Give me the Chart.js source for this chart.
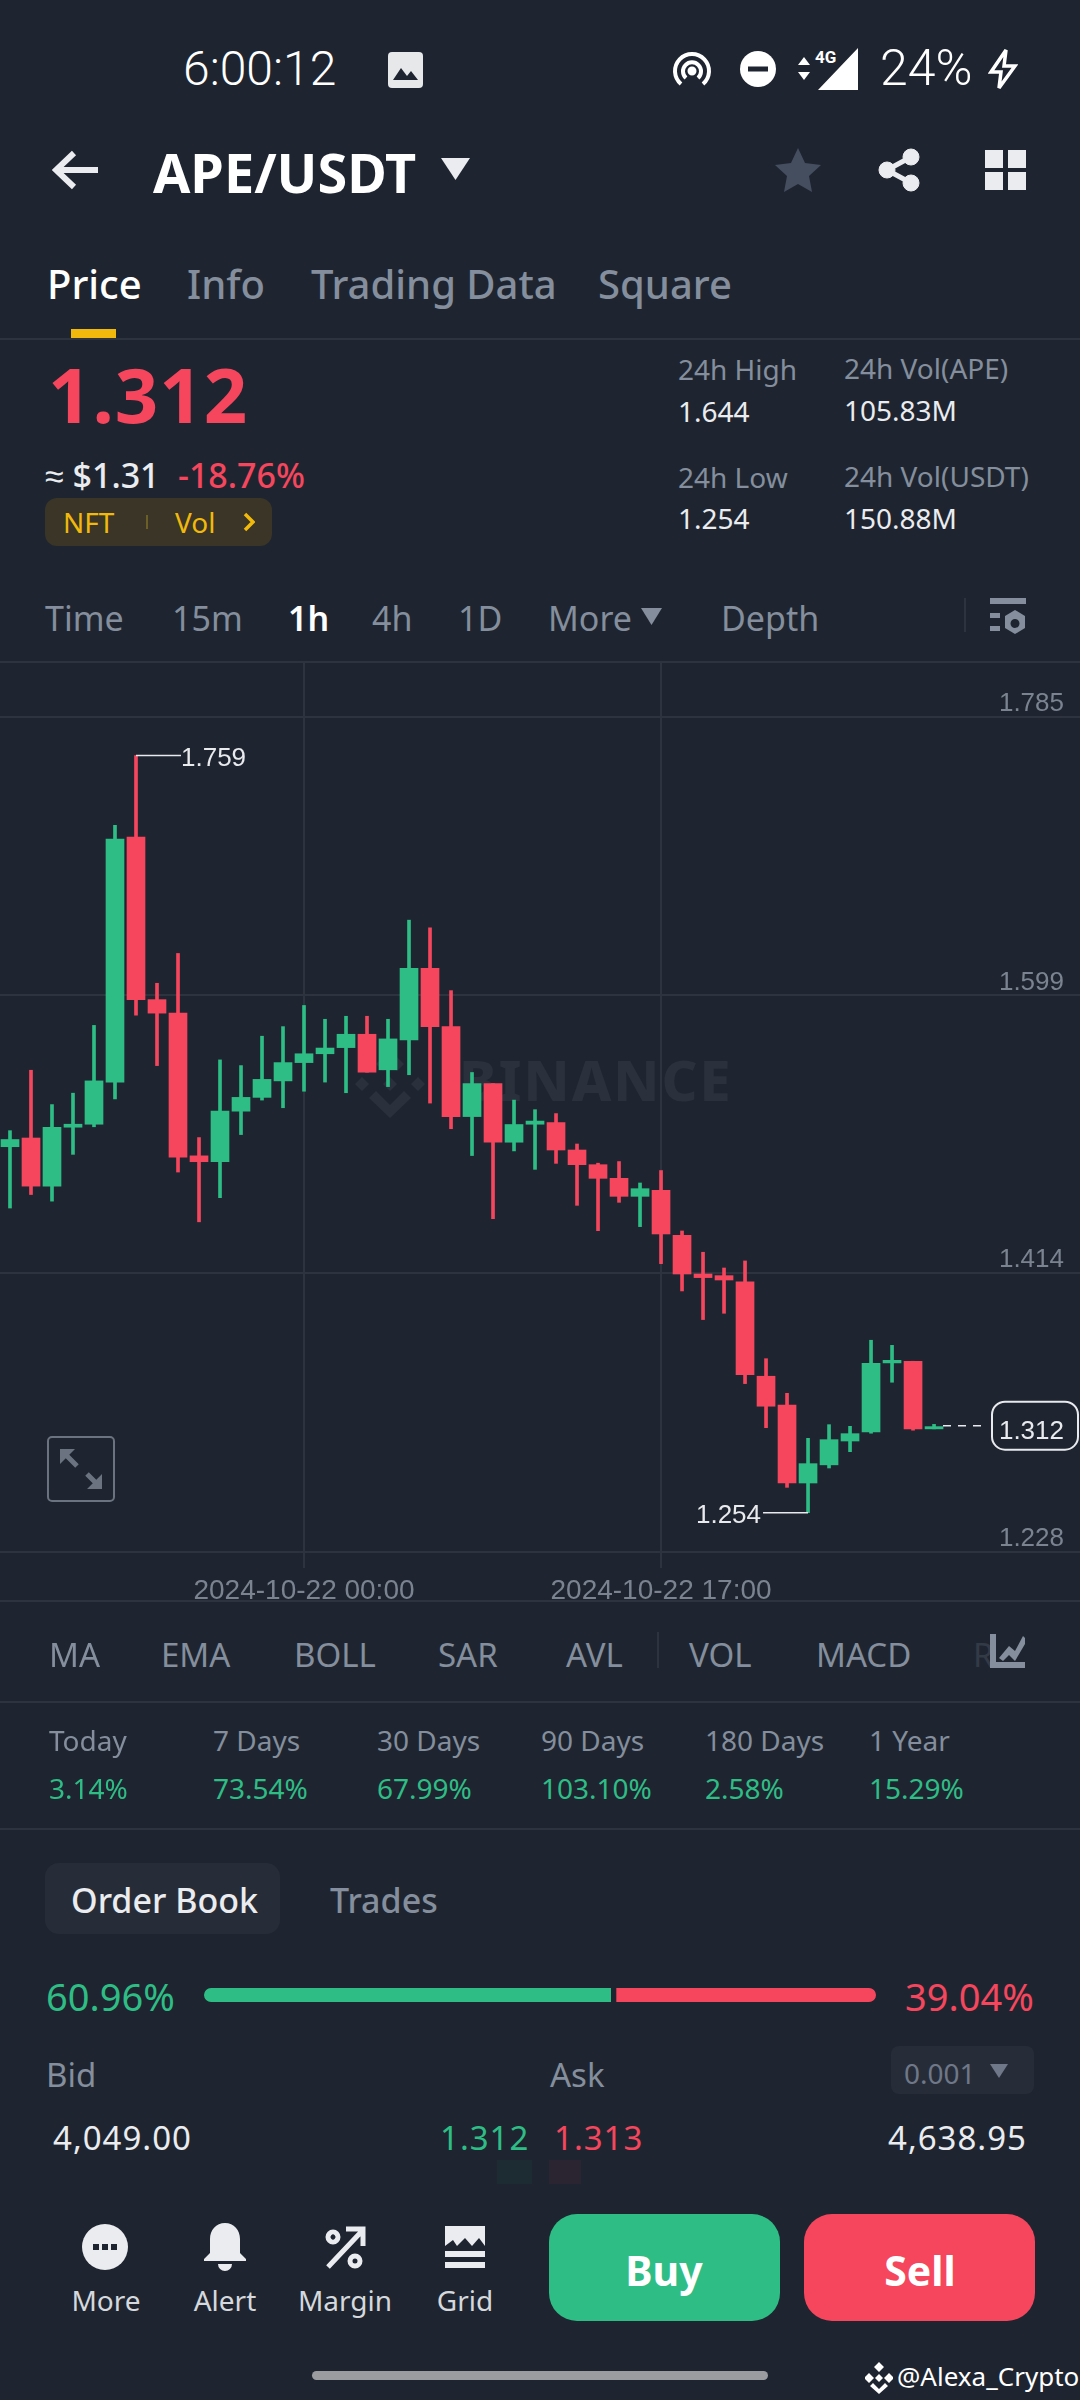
<!DOCTYPE html>
<html>
<head>
<meta charset="utf-8">
<title>APE/USDT</title>
<script src="https://cdn.jsdelivr.net/npm/chart.js@4"></script>
<style>
  html, body { margin: 0; padding: 0; background: #1e2530; }
  #page { position: relative; width: 1080px; height: 2400px; overflow: hidden; background: #1e2530; font-family: "Noto Sans", sans-serif; color: #848e9c; }
  .t { position: absolute; transform: translateY(-50%); line-height: 1; white-space: nowrap; }
  .line { position: absolute; left: 0; width: 1080px; height: 2px; background: #2d3440; }
  .box { position: absolute; }
  svg { position: absolute; }
  canvas { position: absolute; display: block; }
  .w { color: #eaecef; }
  .g { color: #2ebd85; }
  .r { color: #f6465d; }
  .y { color: #f0b90b; }
  .s28 { font-size: 28px; }
  .s34 { font-size: 33px; }
  .nav { font-size: 28px; color: #d5d8dc; transform: translate(-50%, -50%); }
</style>
</head>
<body>
<div id="page">
  <!-- status bar -->
  <span class="t" style="left:183px;top:68px;font:300 48px Roboto;color:#fff">6:00:12</span>
  <svg style="left:388px;top:52px" width="35" height="36" viewBox="0 0 35 36"><rect width="35" height="36" rx="4" fill="#e6e8ea"/><path d="M5 28l8-12 6 8 4-5 7 9z" fill="#1e2530"/></svg>
  <svg style="left:672px;top:50px" width="40" height="40" viewBox="0 0 40 40" fill="none" stroke="#fff" stroke-width="4"><path d="M9 34a17 17 0 1 1 22 0"/><path d="M14 28a9 9 0 1 1 12 0"/><circle cx="20" cy="21" r="2.5" fill="#fff"/></svg>
  <svg style="left:740px;top:51px" width="36" height="36" viewBox="0 0 36 36"><circle cx="18" cy="18" r="18" fill="#fff"/><rect x="8" y="15.5" width="20" height="5" fill="#1e2530"/></svg>
  <svg style="left:796px;top:46px" width="62" height="44" viewBox="0 0 62 44" fill="#fff"><path d="M2 19l6-8 6 8zM2 26l6 8 6-8z"/><path d="M22 44L62 2v42zM56 14v26h-4V18z"/></svg>
  <span class="t" style="left:815px;top:57px;font:700 17px Roboto;color:#fff;background:#1e2530">4G</span>
  <span class="t" style="left:880px;top:68px;font:300 50px Roboto;color:#fff">24%</span>
  <svg style="left:988px;top:48px" width="30" height="42" viewBox="0 0 30 42" fill="none" stroke="#fff" stroke-width="3.5"><path d="M18 2L3 24h10l-2 16 16-22H16z"/></svg>

  <!-- header -->
  <svg style="left:52px;top:150px" width="46" height="40" viewBox="0 0 46 40" fill="none" stroke="#eaecef" stroke-width="6"><path d="M46 20H4M22 3L4 20l18 17"/></svg>
  <span class="t" style="left:153px;top:172px;font-size:54px;font-weight:700;color:#fff">APE/USDT</span>
  <svg style="left:441px;top:158px" width="29" height="22" viewBox="0 0 29 22"><path d="M0 0h29L14.500 22z" fill="#eaecef"/></svg>
  <svg style="left:775px;top:147px" width="46" height="46" viewBox="0 0 46 46"><path d="M23 1l7 15 16 2-12 11 3 16-14-8-14 8 3-16L0 18l16-2z" fill="#454e5f"/></svg>
  <svg style="left:878px;top:148px" width="42" height="44" viewBox="0 0 42 44" fill="#eaecef" stroke="#eaecef"><circle cx="33" cy="9" r="8"/><circle cx="33" cy="35" r="8"/><circle cx="9" cy="22" r="8"/><path d="M9 22L33 9M9 22l24 13" stroke-width="5"/></svg>
  <svg style="left:985px;top:150px" width="41" height="40" viewBox="0 0 41 40" fill="#eaecef"><rect width="18" height="18"/><rect x="23" width="18" height="18"/><rect y="22" width="18" height="18"/><rect x="23" y="22" width="18" height="18"/></svg>

  <!-- tabs -->
  <span class="t" style="left:47px;top:284px;font-size:40px;font-weight:500;color:#fff">Price</span>
  <span class="t" style="left:187px;top:284px;font-size:40px;font-weight:500">Info</span>
  <span class="t" style="left:311px;top:284px;font-size:40px;font-weight:500">Trading Data</span>
  <span class="t" style="left:598px;top:284px;font-size:40px;font-weight:500">Square</span>
  <div class="box" style="left:71px;top:329px;width:45px;height:9px;background:#f0b90b"></div>
  <div class="line" style="top:338px"></div>

  <!-- price block -->
  <span class="t r" style="left:48px;top:394px;font-size:76px;font-weight:700;letter-spacing:1px">1.312</span>
  <span class="t w" style="left:45px;top:475px;font-size:34px;font-weight:500">≈ $1.31</span>
  <span class="t r" style="left:178px;top:475px;font-size:34px;font-weight:500">-18.76%</span>
  <div class="box" style="left:45px;top:498px;width:227px;height:48px;border-radius:12px;background:#3a3526"></div>
  <span class="t y s28" style="left:63px;top:522px">NFT</span>
  <div class="box" style="left:146px;top:515px;width:2px;height:14px;background:#6b5f28"></div>
  <span class="t y s28" style="left:175px;top:522px">Vol</span>
  <svg style="left:243px;top:512px" width="12" height="20" viewBox="0 0 12 20" fill="none" stroke="#f0b90b" stroke-width="3.500"><path d="M2 2l8 8-8 8"/></svg>

  <span class="t s28" style="left:678px;top:369px">24h High</span>
  <span class="t w s28" style="left:678px;top:411px">1.644</span>
  <span class="t s28" style="left:678px;top:477px">24h Low</span>
  <span class="t w s28" style="left:678px;top:518px">1.254</span>
  <span class="t s28" style="left:844px;top:368px">24h Vol(APE)</span>
  <span class="t w s28" style="left:844px;top:410px">105.83M</span>
  <span class="t s28" style="left:844px;top:476px">24h Vol(USDT)</span>
  <span class="t w s28" style="left:844px;top:518px">150.88M</span>

  <!-- interval row -->
  <span class="t" style="left:45px;top:618px;font-size:34px">Time</span>
  <span class="t" style="left:172px;top:618px;font-size:34px">15m</span>
  <span class="t" style="left:288px;top:618px;font-size:34px;font-weight:600;color:#fff">1h</span>
  <span class="t" style="left:372px;top:618px;font-size:34px">4h</span>
  <span class="t" style="left:458px;top:618px;font-size:34px">1D</span>
  <span class="t" style="left:548px;top:618px;font-size:34px">More</span>
  <svg style="left:641px;top:608px" width="21" height="17" viewBox="0 0 21 17"><path d="M0 0h21L10.500 17z" fill="#848e9c"/></svg>
  <span class="t" style="left:721px;top:618px;font-size:34px">Depth</span>
  <div class="box" style="left:964px;top:598px;width:2px;height:34px;background:#2d3440"></div>
  <svg style="left:990px;top:598px" width="36" height="36" viewBox="0 0 36 36" fill="#848e9c"><rect width="36" height="6"/><rect y="15" width="10" height="5"/><rect y="28" width="10" height="5"/><path d="M25 12l10 6v12l-10 6-10-6V18zm0 9a4 4 0 1 0 0 9 4 4 0 0 0 0-9z" fill-rule="evenodd"/></svg>
  <div class="line" style="top:661px"></div>

  <!-- watermark under the chart -->
  <svg style="left:355px;top:1050px" width="70" height="68" viewBox="0 0 70 68" fill="#2a303c"><path d="M35 0l14 14-7 7-7-7-7 7-7-7zM7 27l7 7-7 7-7-7zM63 27l7 7-7 7-7-7zM35 27l7 7-7 7-7-7zM21 41l14 14 14-14 7 7-21 20-21-20z"/></svg>
  <span class="t" style="left:459px;top:1079px;font-size:56px;font-weight:800;letter-spacing:2px;color:#2a303c">BINANCE</span>

  <canvas id="priceChart" style="left:0;top:662px" width="1080" height="938"></canvas>
  <svg style="left:47px;top:1436px" width="68" height="66" viewBox="0 0 68 66" fill="none" stroke="#6b7280" stroke-width="2"><rect x="1" y="1" width="66" height="64" rx="4"/><path d="M16 16l14 14M40 38l12 12" stroke-width="5"/><path d="M13 13h15l-15 15zM55 53H40l15-15z" fill="#6b7280" stroke="none"/></svg>
  <div class="line" style="top:1600px"></div>

  <!-- indicators -->
  <span class="t s34" style="left:49px;top:1654px">MA</span>
  <span class="t s34" style="left:161px;top:1654px">EMA</span>
  <span class="t s34" style="left:294px;top:1654px">BOLL</span>
  <span class="t s34" style="left:438px;top:1654px">SAR</span>
  <span class="t s34" style="left:566px;top:1654px">AVL</span>
  <div class="box" style="left:657px;top:1632px;width:2px;height:36px;background:#2d3440"></div>
  <span class="t s34" style="left:689px;top:1654px">VOL</span>
  <span class="t s34" style="left:816px;top:1654px">MACD</span>
  <span class="t s34" style="left:973px;top:1654px;color:#333a47">R</span>
  <svg style="left:990px;top:1634px" width="35" height="34" viewBox="0 0 35 34" fill="#848e9c"><path d="M0 0h6v28h29v6H0z"/><path d="M9 24l10-12 6 5 8-15 2 2v6l-10 17-6-6-6 6z"/></svg>
  <div class="line" style="top:1701px"></div>

  <!-- period changes -->
  <span class="t s28" style="left:49px;top:1740px">Today</span>
  <span class="t s28" style="left:213px;top:1740px">7 Days</span>
  <span class="t s28" style="left:377px;top:1740px">30 Days</span>
  <span class="t s28" style="left:541px;top:1740px">90 Days</span>
  <span class="t s28" style="left:705px;top:1740px">180 Days</span>
  <span class="t s28" style="left:869px;top:1740px">1 Year</span>
  <span class="t g s28" style="left:49px;top:1788px">3.14%</span>
  <span class="t g s28" style="left:213px;top:1788px">73.54%</span>
  <span class="t g s28" style="left:377px;top:1788px">67.99%</span>
  <span class="t g s28" style="left:541px;top:1788px">103.10%</span>
  <span class="t g s28" style="left:705px;top:1788px">2.58%</span>
  <span class="t g s28" style="left:869px;top:1788px">15.29%</span>
  <div class="line" style="top:1828px"></div>

  <!-- order book -->
  <div class="box" style="left:45px;top:1863px;width:235px;height:71px;border-radius:14px;background:#272d38"></div>
  <span class="t w" style="left:71px;top:1900px;font-size:34px;font-weight:500">Order Book</span>
  <span class="t" style="left:330px;top:1900px;font-size:34px;font-weight:500">Trades</span>
  <span class="t g" style="left:46px;top:1996px;font-size:38px">60.96%</span>
  <canvas id="ratioChart" style="left:204px;top:1985px" width="672" height="20"></canvas>
  <span class="t r" style="left:905px;top:1996px;font-size:38px">39.04%</span>
  <span class="t s34" style="left:46px;top:2074px">Bid</span>
  <span class="t s34" style="left:550px;top:2074px">Ask</span>
  <div class="box" style="left:891px;top:2046px;width:143px;height:48px;border-radius:8px;background:#272d38"></div>
  <span class="t s28" style="left:904px;top:2073px;color:#6f7888">0.001</span>
  <svg style="left:990px;top:2064px" width="18" height="14" viewBox="0 0 18 14"><path d="M0 0h18L9 14z" fill="#6f7888"/></svg>
  <div class="box" style="left:497px;top:2160px;width:35px;height:24px;background:#1d2c32"></div>
  <div class="box" style="left:549px;top:2160px;width:32px;height:24px;background:#2a2531"></div>
  <span class="t w s34" style="left:53px;top:2137px;letter-spacing:1px">4,049.00</span>
  <span class="t g s34" style="left:440px;top:2137px;letter-spacing:1px">1.312</span>
  <span class="t r s34" style="left:554px;top:2137px;letter-spacing:1px">1.313</span>
  <span class="t w s34" style="left:888px;top:2137px;letter-spacing:1px">4,638.95</span>

  <!-- bottom bar -->
  <svg style="left:82px;top:2224px" width="46" height="46" viewBox="0 0 46 46"><circle cx="23" cy="23" r="23" fill="#eaecef"/><rect x="11" y="20" width="6" height="6" fill="#1e2530"/><rect x="20" y="20" width="6" height="6" fill="#1e2530"/><rect x="29" y="20" width="6" height="6" fill="#1e2530"/></svg>
  <svg style="left:204px;top:2223px" width="42" height="48" viewBox="0 0 42 48" fill="#eaecef"><path d="M21 0c9 0 15 7 15 16v14l6 6v2H0v-2l6-6V16C6 7 12 0 21 0zM14 41h14a7 7 0 0 1-14 0z"/></svg>
  <svg style="left:324px;top:2225px" width="42" height="44" viewBox="0 0 42 44" fill="none" stroke="#eaecef" stroke-width="5"><circle cx="9" cy="12" r="5" transform="rotate(45 9 12)"/><circle cx="31" cy="36" r="5"/><path d="M4 42L38 6M22 4h17v17"/></svg>
  <svg style="left:445px;top:2226px" width="40" height="42" viewBox="0 0 40 42" fill="#eaecef"><path d="M0 0h40v20l-6-8-7 8-7-8-8 8-4-6-8 6z"/><rect y="25" width="40" height="6"/><rect y="36" width="40" height="6"/></svg>
  <span class="t nav" style="left:106px;top:2300px">More</span>
  <span class="t nav" style="left:225px;top:2300px">Alert</span>
  <span class="t nav" style="left:345px;top:2300px">Margin</span>
  <span class="t nav" style="left:465px;top:2300px">Grid</span>
  <div class="box" style="left:549px;top:2214px;width:231px;height:107px;border-radius:28px;background:#2ebd85"></div>
  <div class="box" style="left:804px;top:2214px;width:231px;height:107px;border-radius:28px;background:#f6465d"></div>
  <span class="t" style="left:664px;top:2270px;transform:translate(-50%,-50%);font-size:41px;font-weight:700;color:#fff">Buy</span>
  <span class="t" style="left:920px;top:2270px;transform:translate(-50%,-50%);font-size:41px;font-weight:700;color:#fff">Sell</span>
  <div class="box" style="left:312px;top:2371px;width:456px;height:9px;border-radius:5px;background:#9a9ca0"></div>
  <svg style="left:865px;top:2362px" width="28" height="32" viewBox="0 0 28 32" fill="#fff"><path d="M14 0l5 5-5 5-5-5zM4 11l5 5-5 5-5-5zM24 11l5 5-5 5-5-5zM14 12l4 4-4 4-4-4zM8 21l6 6 6-6 3 3-9 8-9-8z"/></svg>
  <span class="t" style="left:897px;top:2376px;font-size:26px;color:#fff">@Alexa_Crypto</span>
</div>

<script>
// hourly candles
const categories = [
  '2024-10-21 10:00','2024-10-21 11:00','2024-10-21 12:00','2024-10-21 13:00','2024-10-21 14:00',
  '2024-10-21 15:00','2024-10-21 16:00','2024-10-21 17:00','2024-10-21 18:00','2024-10-21 19:00',
  '2024-10-21 20:00','2024-10-21 21:00','2024-10-21 22:00','2024-10-21 23:00','2024-10-22 00:00',
  '2024-10-22 01:00','2024-10-22 02:00','2024-10-22 03:00','2024-10-22 04:00','2024-10-22 05:00',
  '2024-10-22 06:00','2024-10-22 07:00','2024-10-22 08:00','2024-10-22 09:00','2024-10-22 10:00',
  '2024-10-22 11:00','2024-10-22 12:00','2024-10-22 13:00','2024-10-22 14:00','2024-10-22 15:00',
  '2024-10-22 16:00','2024-10-22 17:00','2024-10-22 18:00','2024-10-22 19:00','2024-10-22 20:00',
  '2024-10-22 21:00','2024-10-22 22:00','2024-10-22 23:00','2024-10-23 00:00','2024-10-23 01:00',
  '2024-10-23 02:00','2024-10-23 03:00','2024-10-23 04:00','2024-10-23 05:00','2024-10-23 06:00'
];
const opens = [
  1.4981,1.5039,1.4718,1.5111,1.5131,1.5412,1.7046,1.5962,1.5872,1.4920,
  1.4881,1.5218,1.5310,1.5420,1.5542,1.5601,1.5642,1.5731,1.5494,1.5693,
  1.6170,1.5782,1.5182,1.5402,1.5011,1.5131,1.5142,1.4959,1.4861,1.4770,
  1.4650,1.4690,1.4390,1.4132,1.4121,1.4079,1.3450,1.3258,1.2738,1.2859,
  1.3018,1.3078,1.3539,1.3550,1.3099
];
const closes = [
  1.5029,1.4718,1.5111,1.5131,1.5420,1.7033,1.5962,1.5872,1.4912,1.4881,
  1.5218,1.5310,1.5430,1.5542,1.5601,1.5639,1.5731,1.5478,1.5700,1.6170,
  1.5782,1.5182,1.5402,1.5011,1.5129,1.5152,1.4959,1.4861,1.4770,1.4650,
  1.4701,1.4399,1.4132,1.4108,1.4092,1.3461,1.3250,1.2738,1.2867,1.3027,
  1.3067,1.3536,1.3556,1.3099,1.3114
];
const highs = [
  1.5088,1.5491,1.5262,1.5338,1.5790,1.7125,1.7590,1.6071,1.6270,1.5042,
  1.5560,1.5522,1.5718,1.5782,1.5923,1.5831,1.5851,1.5851,1.5831,1.6492,
  1.6441,1.6022,1.5476,1.5402,1.5292,1.5228,1.5202,1.4999,1.4871,1.4882,
  1.4739,1.4822,1.4419,1.4277,1.4172,1.4219,1.3567,1.3336,1.3036,1.3127,
  1.3116,1.3690,1.3656,1.3550,1.3129
];
const lows = [
  1.4572,1.4662,1.4618,1.4930,1.5114,1.5300,1.5859,1.5522,1.4812,1.4480,
  1.4641,1.5062,1.5292,1.5241,1.5351,1.5412,1.5341,1.5478,1.5382,1.5461,
  1.5272,1.5101,1.4922,1.4501,1.4953,1.4830,1.4870,1.4590,1.4421,1.4610,
  1.4448,1.4201,1.4019,1.3828,1.3870,1.3401,1.3107,1.2709,1.2540,1.2838,
  1.2947,1.3070,1.3410,1.3090,1.3099
];
const priceTicks = [1.228, 1.414, 1.599, 1.785];
const timeTicks = [14, 31];
const highIndex = 6, lowIndex = 38;
const highLabel = '1.759', lowLabel = '1.254', lastLabel = '1.312';
const lastPrice = 1.312;
const bidShare = [60.96];
const askShare = [39.04];

const upColor = '#2ebd85';
const downColor = '#f6465d';
const gridColor = '#2d3440';
const candleColors = opens.map((o, i) => closes[i] >= o ? upColor : downColor);

const marksPlugin = {
  id: 'marks',
  afterDatasetsDraw(chart) {
    const ctx = chart.ctx, x = chart.scales.x, y = chart.scales.y;
    ctx.save();
    ctx.font = "26px 'Liberation Sans'";
    ctx.textBaseline = 'middle';
    ctx.strokeStyle = '#e8eaed';
    ctx.fillStyle = '#e8eaed';
    ctx.lineWidth = 1.5;

    // highest and lowest price leaders
    const hx = x.getPixelForValue(highIndex), hy = y.getPixelForValue(highs[highIndex]);
    ctx.beginPath(); ctx.moveTo(hx, hy); ctx.lineTo(hx + 45, hy); ctx.stroke();
    ctx.textAlign = 'left';
    ctx.fillText(highLabel, hx + 45, hy + 3);
    const lx = x.getPixelForValue(lowIndex), ly = y.getPixelForValue(lows[lowIndex]);
    ctx.beginPath(); ctx.moveTo(lx, ly); ctx.lineTo(lx - 45, ly); ctx.stroke();
    ctx.textAlign = 'right';
    ctx.fillText(lowLabel, lx - 47, ly + 3);

    // last price tag
    const py = y.getPixelForValue(lastPrice);
    ctx.setLineDash([8, 7]);
    ctx.beginPath(); ctx.moveTo(943, py); ctx.lineTo(986, py); ctx.stroke();
    ctx.setLineDash([]);
    ctx.lineWidth = 2;
    ctx.beginPath(); ctx.roundRect(992, py - 24, 86, 48, 13); ctx.stroke();
    ctx.fillText(lastLabel, 1064, py + 6);
    ctx.restore();
  }
};

new Chart(document.getElementById('priceChart'), {
  type: 'bar',
  data: {
    datasets: [
      {
        label: 'Wick',
        data: opens.map((o, i) => ({ x: i, y: [lows[i], highs[i]] })),
        backgroundColor: candleColors,
        barThickness: 3,
        grouped: false,
        order: 2
      },
      {
        label: 'Body',
        data: opens.map((o, i) => ({ x: i, y: [o, closes[i]] })),
        backgroundColor: candleColors,
        barThickness: 18,
        grouped: false,
        order: 1
      }
    ]
  },
  options: {
    responsive: false,
    animation: false,
    devicePixelRatio: 1,
    layout: { padding: 0 },
    plugins: { legend: { display: false }, tooltip: { enabled: false } },
    scales: {
      x: {
        type: 'linear',
        offset: false,
        min: -0.476,
        max: 50.95,
        afterBuildTicks: axis => { axis.ticks = timeTicks.map(v => ({ value: v })); },
        afterFit: axis => { axis.height = 32; axis.paddingLeft = 0; axis.paddingRight = 0; },
        grid: { color: gridColor, lineWidth: 2, drawTicks: false, offset: false },
        border: { display: false },
        ticks: {
          autoSkip: false,
          maxRotation: 0,
          padding: 6,
          color: '#7b8391',
          font: { family: 'Liberation Sans', size: 28 },
          callback: v => categories[v]
        }
      },
      y: {
        position: 'right',
        min: 1.2171,
        max: 1.8214,
        afterBuildTicks: axis => { axis.ticks = priceTicks.map(v => ({ value: v })); },
        afterFit: axis => { axis.width = 0; axis.paddingTop = 0; axis.paddingBottom = 0; },
        grid: { color: gridColor, lineWidth: 2, drawTicks: false },
        border: { display: false },
        ticks: {
          mirror: true,
          padding: -16,
          labelOffset: -13,
          color: '#7b8391',
          font: { family: 'Liberation Sans', size: 26 },
          callback: v => v.toFixed(3)
        }
      }
    }
  },
  plugins: [marksPlugin]
});

// bid / ask share bar
new Chart(document.getElementById('ratioChart'), {
  type: 'bar',
  data: {
    labels: ['Share'],
    datasets: [
      { label: 'Bid', data: bidShare, backgroundColor: upColor, borderColor: '#1e2530', borderWidth: { right: 3 }, borderSkipped: false, borderRadius: { topLeft: 7, bottomLeft: 7 }, barThickness: 14 },
      { label: 'Ask', data: askShare, backgroundColor: downColor, borderColor: '#1e2530', borderWidth: { left: 3 }, borderSkipped: false, borderRadius: { topRight: 7, bottomRight: 7 }, barThickness: 14 }
    ]
  },
  options: {
    indexAxis: 'y',
    responsive: false,
    animation: false,
    devicePixelRatio: 1,
    layout: { padding: 0 },
    plugins: { legend: { display: false }, tooltip: { enabled: false } },
    scales: {
      x: { display: false, stacked: true, min: 0, max: 100 },
      y: { display: false, stacked: true }
    }
  }
});
</script>
</body>
</html>
